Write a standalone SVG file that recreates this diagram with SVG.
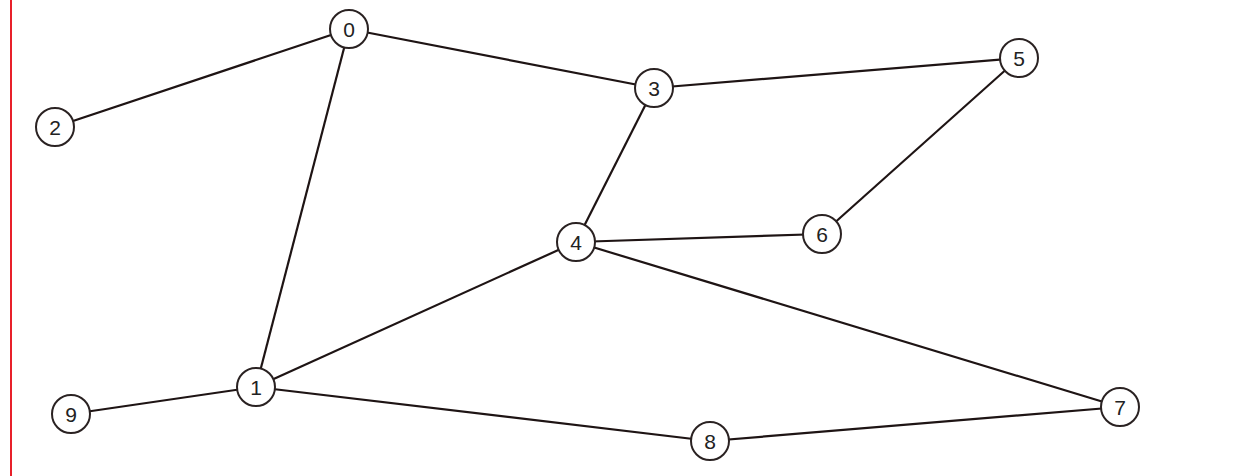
<svg xmlns="http://www.w3.org/2000/svg" width="1254" height="476" viewBox="0 0 1254 476">
<style>
.e line{stroke:#1e1414;stroke-width:2.2}
.n circle{fill:#fff;stroke:#2a2222;stroke-width:2}
.n text{font-family:"Liberation Sans",Arial,sans-serif;font-size:21px;fill:#222;text-anchor:middle;dominant-baseline:central}
</style>
<rect width="1254" height="476" fill="#fff"/>
<line x1="11" y1="0" x2="11" y2="476" stroke="#e8202a" stroke-width="2"/>
<g class="e" id="edges">
<line x1="349" y1="29" x2="55" y2="127"/>
<line x1="349" y1="29" x2="654" y2="88"/>
<line x1="349" y1="29" x2="256" y2="387"/>
<line x1="654" y1="88" x2="1019" y2="58"/>
<line x1="654" y1="88" x2="576" y2="242"/>
<line x1="1019" y1="58" x2="822" y2="234"/>
<line x1="576" y1="242" x2="822" y2="234"/>
<line x1="576" y1="242" x2="256" y2="387"/>
<line x1="576" y1="242" x2="1120" y2="407"/>
<line x1="256" y1="387" x2="71" y2="414"/>
<line x1="256" y1="387" x2="710" y2="441"/>
<line x1="710" y1="441" x2="1120" y2="407"/>
</g>
<g class="n" id="n0"><circle cx="349" cy="29" r="19"/><text x="349" y="29">0</text></g>
<g class="n" id="n1"><circle cx="256" cy="387" r="19"/><text x="256" y="387">1</text></g>
<g class="n" id="n2"><circle cx="55" cy="127" r="19"/><text x="55" y="127">2</text></g>
<g class="n" id="n3"><circle cx="654" cy="88" r="19"/><text x="654" y="88">3</text></g>
<g class="n" id="n4"><circle cx="576" cy="242" r="19"/><text x="576" y="242">4</text></g>
<g class="n" id="n5"><circle cx="1019" cy="58" r="19"/><text x="1019" y="58">5</text></g>
<g class="n" id="n6"><circle cx="822" cy="234" r="19"/><text x="822" y="234">6</text></g>
<g class="n" id="n7"><circle cx="1120" cy="407" r="19"/><text x="1120" y="407">7</text></g>
<g class="n" id="n8"><circle cx="710" cy="441" r="19"/><text x="710" y="441">8</text></g>
<g class="n" id="n9"><circle cx="71" cy="414" r="19"/><text x="71" y="414">9</text></g>
</svg>
